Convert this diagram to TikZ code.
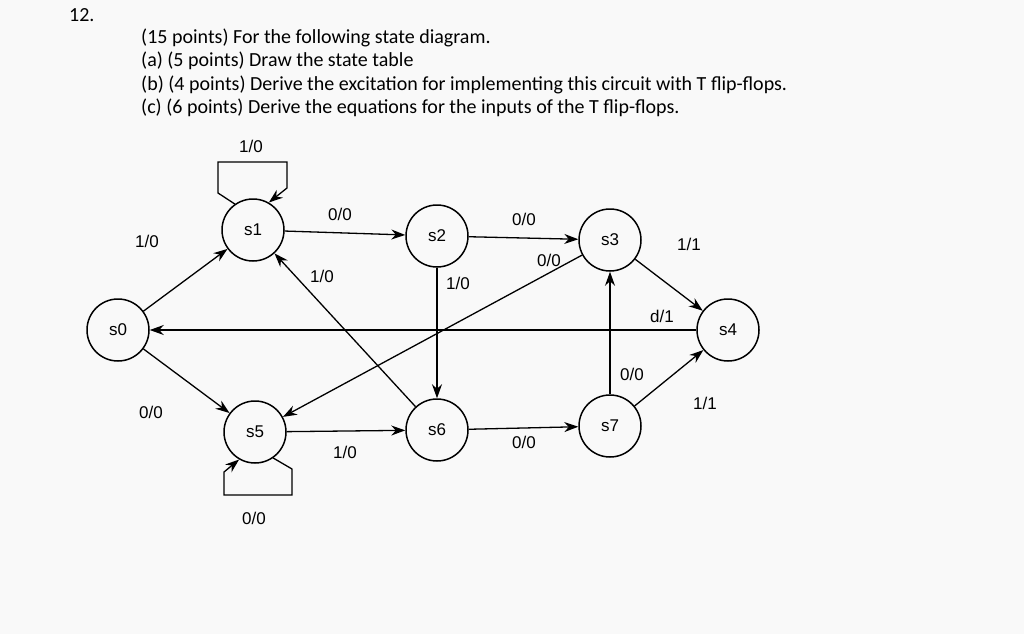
\documentclass[tikz,border=0pt]{standalone}
\usepackage{fontspec}
\setmainfont{Liberation Sans}
\newfontfamily\hdfont{Carlito}
\usetikzlibrary{arrows.meta}
\begin{document}
\begin{tikzpicture}[x=1pt,y=-1pt,
  st/.style={circle,draw,line width=1.5pt,minimum size=62pt,inner sep=0pt,font=\fontsize{17}{17}\selectfont},
  lb/.style={font=\fontsize{17}{17}\selectfont},
  hd/.style={anchor=west,inner sep=1pt,font=\hdfont\fontsize{20}{20}\selectfont},
  ed/.style={line width=1.3pt,-{Stealth[length=14pt,width=10pt]}}]
\fill[gray!5] (0,0) rectangle (1024,634);
\useasboundingbox (0,0) rectangle (1024,634);
\node[hd] (n12) at (68,15) {12.};
\node[hd] (t0) at (140,38) {(15 points) For the following state diagram.};
\node[hd] (t1) at (140,61) {(a) (5 points) Draw the state table};
\node[hd] (t2) at (140,85) {(b) (4 points) Derive the excitation for implementing this circuit with T flip-flops.};
\node[hd] (t3) at (140,108) {(c) (6 points) Derive the equations for the inputs of the T flip-flops.};
\node[st] (s0) at (118,330) {s0};
\node[st] (s1) at (253,230) {s1};
\node[st] (s2) at (437,236) {s2};
\node[st] (s3) at (610,240) {s3};
\node[st] (s4) at (728,330) {s4};
\node[st] (s5) at (255,432) {s5};
\node[st] (s6) at (437,430) {s6};
\node[st] (s7) at (610,426) {s7};
\draw[ed] (s1.125) -- (218,193) -- (218,162) -- (287,162) -- (287,188) -- (s1.60);
\draw[ed] (s5.-55) -- (292,469) -- (292,495) -- (224,495) -- (224,472) -- (s5.-120);
\draw[ed] (s0) -- (s1);
\draw[ed] (s1) -- (s2);
\draw[ed] (s2) -- (s3);
\draw[ed] (s3) -- (s5);
\draw[ed] (s6) -- (s1);
\draw[ed] (s2) -- (s6);
\draw[ed] (s3) -- (s4);
\draw[ed] (s4) -- (s0);
\draw[ed] (s0) -- (s5);
\draw[ed] (s5) -- (s6);
\draw[ed] (s6) -- (s7);
\draw[ed] (s7) -- (s3);
\draw[ed] (s7) -- (s4);
\node[lb] (l1) at (147,241) {1/0};
\node[lb] (l2) at (251,146) {1/0};
\node[lb] (l3) at (340,214) {0/0};
\node[lb] (l4) at (524,219) {0/0};
\node[lb] (l5) at (549,260) {0/0};
\node[lb] (l6) at (322,276) {1/0};
\node[lb] (l7) at (458,283) {1/0};
\node[lb] (l8) at (689,244) {1/1};
\node[lb] (l9) at (662,316) {d/1};
\node[lb] (l10) at (151,412) {0/0};
\node[lb] (l11) at (254,518) {0/0};
\node[lb] (l12) at (345,452) {1/0};
\node[lb] (l13) at (524,442) {0/0};
\node[lb] (l14) at (632,374) {0/0};
\node[lb] (l15) at (705,403) {1/1};
\end{tikzpicture}
\end{document}
